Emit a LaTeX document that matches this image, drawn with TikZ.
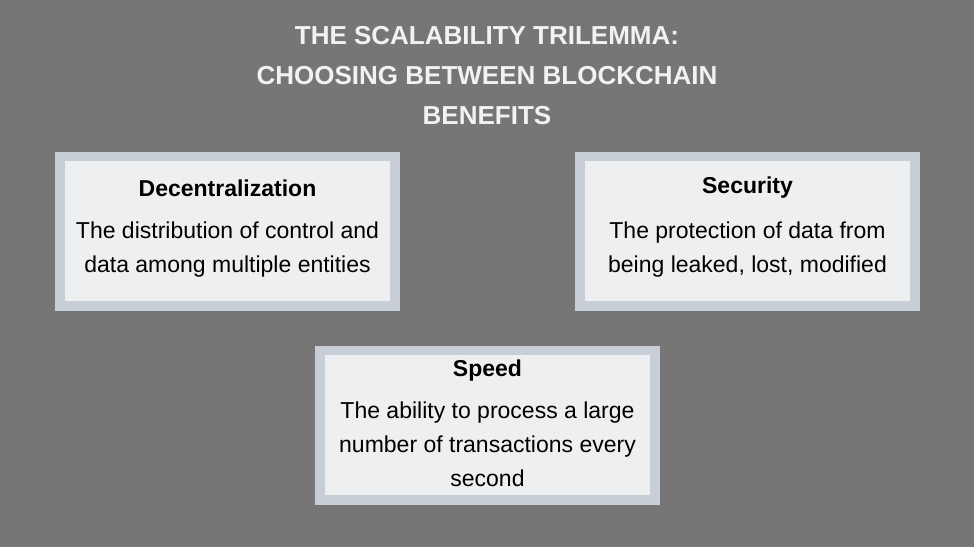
\documentclass[tikz,border=0pt]{standalone}
\usepackage{fontspec}
\setmainfont{Liberation Sans}
\definecolor{bg}{HTML}{767676}
\definecolor{frame}{HTML}{C7CED6}
\definecolor{inner}{HTML}{EEEFF1}
\definecolor{titlec}{HTML}{F2F2F2}
\begin{document}
\begin{tikzpicture}[x=1pt,y=-1pt,
  outerbox/.style={fill=frame},
  innerbox/.style={fill=inner},
  head/.style={font=\fontsize{23}{28}\selectfont\bfseries, text=black},
  body/.style={font=\fontsize{23}{34}\selectfont, text=black, align=center},
  ttl/.style={font=\fontsize{26}{40}\selectfont\bfseries, text=titlec, align=center}]
\fill[bg] (0,0) rectangle (974,547);
\node[ttl] (title) at (487,76) {THE SCALABILITY TRILEMMA:\\CHOOSING BETWEEN BLOCKCHAIN\\BENEFITS};
% box 1
\fill[outerbox] (55,152) rectangle (400,311);
\fill[innerbox] (65,161) rectangle (390,301);
\node[head] (h1) at (227.5,188) {Decentralization};
\node[body] (b1) at (227.5,250) {The distribution of control and\\data among multiple entities};
% box 2
\fill[outerbox] (575,152) rectangle (920,311);
\fill[innerbox] (585,161) rectangle (910,301);
\node[head] (h2) at (747.5,188) {Security};
\node[body] (b2) at (747.5,250) {The protection of data from\\being leaked, lost, modified};
% box 3
\fill[outerbox] (315,346) rectangle (660,505);
\fill[innerbox] (325,355) rectangle (650,495);
\node[head] (h3) at (487.5,371) {Speed};
\node[body] (b3) at (487.5,444) {The ability to process a large\\number of transactions every\\second};
\end{tikzpicture}
\end{document}
